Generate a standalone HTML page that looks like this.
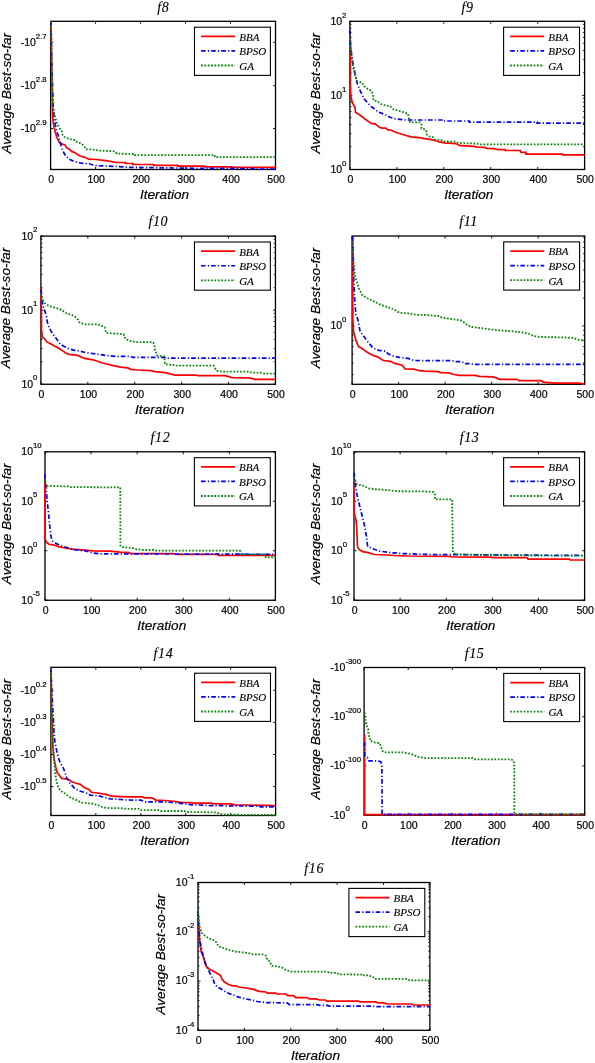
<!DOCTYPE html><html><head><meta charset="utf-8"><style>html,body{margin:0;padding:0;background:#fff;width:595px;height:1063px;overflow:hidden}svg{display:block}.tk{font-family:"Liberation Sans",Arial,sans-serif;font-size:10.5px;fill:#000}.ex{font-size:7.8px}.al{font-family:"Liberation Sans",Arial,sans-serif;font-style:italic;font-size:13.6px;fill:#000}.yl{font-size:13.6px}.xl{font-size:13.6px}.ti{font-family:"Liberation Serif","Times New Roman",serif;font-style:italic;font-size:14px;letter-spacing:0.6px;fill:#000}.lg{font-family:"Liberation Serif","Times New Roman",serif;font-style:italic;font-size:11px;fill:#000}text{stroke:#000;stroke-width:0.2px}.ti,.lg{stroke-width:0.12px}</style></head><body>
<svg width="595" height="1063" viewBox="0 0 595 1063">
<rect width="595" height="1063" fill="#fff"/>
<g>
<rect x="50.6" y="21.3" width="224.9" height="148.2" fill="none" stroke="#000" stroke-width="1.3"/>
<path d="M50.6 169.5v-2.5M50.6 21.3v2.5" stroke="#000" stroke-width="0.9"/>
<text class="tk" x="51.2" y="183" text-anchor="middle">0</text>
<path d="M95.58 169.5v-2.5M95.58 21.3v2.5" stroke="#000" stroke-width="0.9"/>
<text class="tk" x="96.18" y="183" text-anchor="middle">100</text>
<path d="M140.56 169.5v-2.5M140.56 21.3v2.5" stroke="#000" stroke-width="0.9"/>
<text class="tk" x="141.16" y="183" text-anchor="middle">200</text>
<path d="M185.54 169.5v-2.5M185.54 21.3v2.5" stroke="#000" stroke-width="0.9"/>
<text class="tk" x="186.14" y="183" text-anchor="middle">300</text>
<path d="M230.52 169.5v-2.5M230.52 21.3v2.5" stroke="#000" stroke-width="0.9"/>
<text class="tk" x="231.12" y="183" text-anchor="middle">400</text>
<path d="M275.5 169.5v-2.5M275.5 21.3v2.5" stroke="#000" stroke-width="0.9"/>
<text class="tk" x="276.1" y="183" text-anchor="middle">500</text>
<path d="M50.6 42.3h2.5M275.5 42.3h-2.5" stroke="#000" stroke-width="0.9"/>
<text class="tk" x="20.65" y="45.7">-10<tspan class="ex" dy="-7.2">2.7</tspan></text>
<path d="M50.6 85.7h2.5M275.5 85.7h-2.5" stroke="#000" stroke-width="0.9"/>
<text class="tk" x="20.65" y="89.1">-10<tspan class="ex" dy="-7.2">2.8</tspan></text>
<path d="M50.6 128.5h2.5M275.5 128.5h-2.5" stroke="#000" stroke-width="0.9"/>
<text class="tk" x="20.65" y="131.9">-10<tspan class="ex" dy="-7.2">2.9</tspan></text>
<clipPath id="cf8"><rect x="49.6" y="20.3" width="226.9" height="150.2"/></clipPath>
<g clip-path="url(#cf8)">
<polyline points="51,21.6 51.6,60 52.2,95 52.5,109.1 52.9,119.7 53.9,126.7 55.3,132.4 56.8,137.3 58.9,141.6 61.7,143.7 65.2,145.1 66.6,147.9 69.5,149.3 71.6,151.4 73.7,152.1 77.2,154.3 80,156 84.3,157.1 87.8,158.8 89,159.2 95.8,159.5 106,160.7 116,162.5 125.4,162.5 125.4,163.5 132.8,163.5 132.8,164.5 153.6,164.5 153.6,165.4 177.8,165.4 177.8,166.2 204.7,166.2 204.7,166.8 231.6,166.8 231.6,167.4 275.5,167.4" fill="none" stroke="#ff0000" stroke-width="1.7"/>
<polyline points="51,21.6 51.6,60 52.9,95 53.2,109.1 54.3,118.3 55.3,124.6 56.8,131.7 58.9,137.3 60.3,143 62.1,148.6 63.8,152.8 65.9,156.4 69.5,159.2 73.7,161.3 78.6,162.7 82.9,163.4 89,163.8 95.8,165.6 106,166.1 117.6,166.5 128,167.3 160,167.8 200,168.3 255.8,168.6 256,169 275.5,169" fill="none" stroke="#0000ff" stroke-width="1.7" stroke-dasharray="4.6,2.2,1.2,2.1"/>
<polyline points="51,21.6 51.7,60 52.2,95 53.2,105.6 54.3,114 55.7,119 57.5,124.6 59.6,128.2 61.7,131 62.8,135.9 65.9,138 70.2,139.1 75.1,140.1 77.2,142.3 81.5,143.7 84.3,146.5 85.7,149.3 91.5,149.3 98.7,150.6 114.7,151.3 116.8,153.6 134.8,154.1 134.8,155.1 214.8,155.1 214.8,157.1 275.5,157.1" fill="none" stroke="#008a00" stroke-width="1.8" stroke-dasharray="1.7,1.66"/>
</g>
<text class="ti" x="163.25" y="11.5" text-anchor="middle">f8</text>
<text class="al xl" x="164.55" y="198.8" text-anchor="middle">Iteration</text>
<text class="al yl" transform="translate(10.6,93.2) rotate(-90)" text-anchor="middle">Average Best-so-far</text>
<rect x="194.5" y="27.2" width="75.9" height="48.2" fill="#fff" stroke="#000" stroke-width="1.1"/>
<polyline points="201.05,36.4 235.05,36.4" fill="none" stroke="#ff0000" stroke-width="1.7"/>
<text class="lg" x="239.2" y="40.7">BBA</text>
<polyline points="201.05,50.95 235.05,50.95" fill="none" stroke="#0000ff" stroke-width="1.7" stroke-dasharray="4.6,2.2,1.2,2.1"/>
<text class="lg" x="239.2" y="55.25">BPSO</text>
<polyline points="201.05,65.5 235.05,65.5" fill="none" stroke="#008a00" stroke-width="1.8" stroke-dasharray="1.7,1.66"/>
<text class="lg" x="239.2" y="69.8">GA</text>
</g>
<g>
<rect x="349.9" y="21.3" width="234.7" height="148.2" fill="none" stroke="#000" stroke-width="1.3"/>
<path d="M349.9 169.5v-2.5M349.9 21.3v2.5" stroke="#000" stroke-width="0.9"/>
<text class="tk" x="350.5" y="183" text-anchor="middle">0</text>
<path d="M396.84 169.5v-2.5M396.84 21.3v2.5" stroke="#000" stroke-width="0.9"/>
<text class="tk" x="397.44" y="183" text-anchor="middle">100</text>
<path d="M443.78 169.5v-2.5M443.78 21.3v2.5" stroke="#000" stroke-width="0.9"/>
<text class="tk" x="444.38" y="183" text-anchor="middle">200</text>
<path d="M490.72 169.5v-2.5M490.72 21.3v2.5" stroke="#000" stroke-width="0.9"/>
<text class="tk" x="491.32" y="183" text-anchor="middle">300</text>
<path d="M537.66 169.5v-2.5M537.66 21.3v2.5" stroke="#000" stroke-width="0.9"/>
<text class="tk" x="538.26" y="183" text-anchor="middle">400</text>
<path d="M584.6 169.5v-2.5M584.6 21.3v2.5" stroke="#000" stroke-width="0.9"/>
<text class="tk" x="585.2" y="183" text-anchor="middle">500</text>
<path d="M349.9 169.5h2.5M584.6 169.5h-2.5" stroke="#000" stroke-width="0.9"/>
<text class="tk" x="330.4" y="172.9">10<tspan class="ex" dy="-7.2">0</tspan></text>
<path d="M349.9 95.4h2.5M584.6 95.4h-2.5" stroke="#000" stroke-width="0.9"/>
<text class="tk" x="330.4" y="98.8">10<tspan class="ex" dy="-7.2">1</tspan></text>
<path d="M349.9 21.3h2.5M584.6 21.3h-2.5" stroke="#000" stroke-width="0.9"/>
<text class="tk" x="330.4" y="24.7">10<tspan class="ex" dy="-7.2">2</tspan></text>
<path d="M349.9 146.72h1.6M584.6 146.72h-1.8M349.9 133.69h1.6M584.6 133.69h-1.8M349.9 124.45h1.6M584.6 124.45h-1.8M349.9 117.28h1.6M584.6 117.28h-1.8M349.9 111.42h1.6M584.6 111.42h-1.8M349.9 106.46h1.6M584.6 106.46h-1.8M349.9 102.17h1.6M584.6 102.17h-1.8M349.9 98.39h1.6M584.6 98.39h-1.8M349.9 72.72h1.6M584.6 72.72h-1.8M349.9 59.69h1.6M584.6 59.69h-1.8M349.9 50.45h1.6M584.6 50.45h-1.8M349.9 43.28h1.6M584.6 43.28h-1.8M349.9 37.42h1.6M584.6 37.42h-1.8M349.9 32.46h1.6M584.6 32.46h-1.8M349.9 28.17h1.6M584.6 28.17h-1.8M349.9 24.39h1.6M584.6 24.39h-1.8" stroke="#000" stroke-width="0.8"/>
<clipPath id="cf9"><rect x="348.9" y="20.3" width="236.7" height="150.2"/></clipPath>
<g clip-path="url(#cf9)">
<polyline points="350.1,35.3 350.3,62.6 350.4,85.2 350.8,95.6 352.2,102.1 353.6,105 355.1,107.8 355.5,112.5 357.4,113.4 360.2,115.3 362.1,116.7 364.9,119.1 366,119.7 368,121.1 370,122.5 372,123.7 374.9,123.7 377.3,125.7 379.3,127.3 382.1,128.1 385.8,128.1 387.8,129.8 390,129.8 396.3,132.5 403.5,134.7 410.8,136.8 419.5,137.6 424.3,138.6 430,139.3 435.7,140.7 438.6,141.7 444.3,142.9 455.7,143.6 460,145.7 474.3,146.4 477.1,147.1 484.3,147.4 487.1,148.3 494.3,148.6 497.9,149.7 505.3,149.7 505.3,150.5 520.4,150.5 521,152.4 525.7,152.4 526,154.2 562.8,154.2 563,154.9 584.6,154.9" fill="none" stroke="#ff0000" stroke-width="1.7"/>
<polyline points="349.9,30.2 350.4,43.8 351.8,56 353.2,64.5 355.1,73.9 356.9,82.4 359.3,89 362.1,94.6 364.5,99.3 367.8,103.1 371.5,106.8 376.9,110.8 378.1,112 382.1,113.4 385,114.6 387.8,116 390,117.3 394.8,118.7 405,120 443.6,120 443.6,121 469.3,121 469.3,122.1 537.1,122.1 537.1,123.2 584.6,123.2" fill="none" stroke="#0000ff" stroke-width="1.7" stroke-dasharray="4.6,2.2,1.2,2.1"/>
<polyline points="349.7,34.4 350.6,43.8 351.3,53.2 352.2,62.6 353.6,69.2 355.1,74.9 356.9,81.4 358.8,81.9 362.1,82.4 364,86.1 367.8,89 371.5,90.9 372.9,94.1 373.4,100.3 377.2,101.2 380.9,104 386.6,105.9 390.5,106.4 393.4,109.3 403.5,112.2 407.9,113.7 410,122.3 420,122.3 421.4,123.6 421.4,128.6 425,129.3 426.4,131.4 427.1,135 429.3,136.4 432.9,137.1 434.3,139.3 441.4,140 442.9,141.4 455.7,141.7 458.6,143.1 477.1,143.6 478.6,144.4 584.6,144.4" fill="none" stroke="#008a00" stroke-width="1.8" stroke-dasharray="1.7,1.66"/>
</g>
<text class="ti" x="467.45" y="11.5" text-anchor="middle">f9</text>
<text class="al xl" x="468.75" y="198.8" text-anchor="middle">Iteration</text>
<text class="al yl" transform="translate(320,93.2) rotate(-90)" text-anchor="middle">Average Best-so-far</text>
<rect x="503.6" y="27.2" width="75.9" height="48.2" fill="#fff" stroke="#000" stroke-width="1.1"/>
<polyline points="510.15,36.4 544.15,36.4" fill="none" stroke="#ff0000" stroke-width="1.7"/>
<text class="lg" x="548.3" y="40.7">BBA</text>
<polyline points="510.15,50.95 544.15,50.95" fill="none" stroke="#0000ff" stroke-width="1.7" stroke-dasharray="4.6,2.2,1.2,2.1"/>
<text class="lg" x="548.3" y="55.25">BPSO</text>
<polyline points="510.15,65.5 544.15,65.5" fill="none" stroke="#008a00" stroke-width="1.8" stroke-dasharray="1.7,1.66"/>
<text class="lg" x="548.3" y="69.8">GA</text>
</g>
<g>
<rect x="40.9" y="236.1" width="234.55" height="148.15" fill="none" stroke="#000" stroke-width="1.3"/>
<path d="M40.9 384.25v-2.5M40.9 236.1v2.5" stroke="#000" stroke-width="0.9"/>
<text class="tk" x="41.5" y="397.75" text-anchor="middle">0</text>
<path d="M87.81 384.25v-2.5M87.81 236.1v2.5" stroke="#000" stroke-width="0.9"/>
<text class="tk" x="88.41" y="397.75" text-anchor="middle">100</text>
<path d="M134.72 384.25v-2.5M134.72 236.1v2.5" stroke="#000" stroke-width="0.9"/>
<text class="tk" x="135.32" y="397.75" text-anchor="middle">200</text>
<path d="M181.63 384.25v-2.5M181.63 236.1v2.5" stroke="#000" stroke-width="0.9"/>
<text class="tk" x="182.23" y="397.75" text-anchor="middle">300</text>
<path d="M228.54 384.25v-2.5M228.54 236.1v2.5" stroke="#000" stroke-width="0.9"/>
<text class="tk" x="229.14" y="397.75" text-anchor="middle">400</text>
<path d="M275.45 384.25v-2.5M275.45 236.1v2.5" stroke="#000" stroke-width="0.9"/>
<text class="tk" x="276.05" y="397.75" text-anchor="middle">500</text>
<path d="M40.9 384.25h2.5M275.45 384.25h-2.5" stroke="#000" stroke-width="0.9"/>
<text class="tk" x="21.4" y="387.65">10<tspan class="ex" dy="-7.2">0</tspan></text>
<path d="M40.9 310.18h2.5M275.45 310.18h-2.5" stroke="#000" stroke-width="0.9"/>
<text class="tk" x="21.4" y="313.57">10<tspan class="ex" dy="-7.2">1</tspan></text>
<path d="M40.9 236.1h2.5M275.45 236.1h-2.5" stroke="#000" stroke-width="0.9"/>
<text class="tk" x="21.4" y="239.5">10<tspan class="ex" dy="-7.2">2</tspan></text>
<path d="M40.9 361.72h1.6M275.45 361.72h-1.8M40.9 348.69h1.6M275.45 348.69h-1.8M40.9 339.45h1.6M275.45 339.45h-1.8M40.9 332.28h1.6M275.45 332.28h-1.8M40.9 326.42h1.6M275.45 326.42h-1.8M40.9 321.46h1.6M275.45 321.46h-1.8M40.9 317.17h1.6M275.45 317.17h-1.8M40.9 313.39h1.6M275.45 313.39h-1.8M40.9 287.72h1.6M275.45 287.72h-1.8M40.9 274.69h1.6M275.45 274.69h-1.8M40.9 265.45h1.6M275.45 265.45h-1.8M40.9 258.28h1.6M275.45 258.28h-1.8M40.9 252.42h1.6M275.45 252.42h-1.8M40.9 247.46h1.6M275.45 247.46h-1.8M40.9 243.17h1.6M275.45 243.17h-1.8M40.9 239.39h1.6M275.45 239.39h-1.8" stroke="#000" stroke-width="0.8"/>
<clipPath id="cf10"><rect x="39.9" y="235.1" width="236.55" height="150.15"/></clipPath>
<g clip-path="url(#cf10)">
<polyline points="41.3,287.5 41.3,298.8 41.4,328.9 42.4,337.1 44.3,338.6 46.5,341.7 49.5,343.2 52.5,344.7 54.8,346.2 57,347.3 60.1,349.2 63.1,351.1 66.1,353.3 69.1,354.4 72.8,354.8 76.6,355.2 79,355.9 84.4,358.4 93.1,359.8 101.8,362.7 107.6,364.2 113.4,365.6 120.7,367.1 127.9,367.9 130.7,369.3 137.9,370 150.7,370.7 155,371.7 165,372.6 169.3,373.6 175,375.2 196.4,375.2 197.9,375.7 225,375.7 232.1,377.6 249.3,377.9 255,379.3 275.3,379.3" fill="none" stroke="#ff0000" stroke-width="1.7"/>
<polyline points="40.9,289.8 42,298.8 43.1,306.3 45,311.6 46.5,316.1 47.3,322.1 48.8,326.6 51,331.1 54,335.6 57,339.4 60.1,343.9 63.8,346.2 69.1,348.8 74.3,350.3 79,350.9 85.8,352.6 96,354 106.1,355.5 115,356.4 130.7,356.4 132.9,357.4 163.6,357.4 166.4,358.2 275.3,358.2" fill="none" stroke="#0000ff" stroke-width="1.7" stroke-dasharray="4.6,2.2,1.2,2.1"/>
<polyline points="40.9,293.5 42,298 43.5,301.8 46.5,304.8 50.3,306.3 54,307.4 58.5,308.6 61.6,310.1 64.6,312.3 67.6,313.8 71.3,314.6 75.1,316.8 78.1,319.8 79,321.7 80,322.9 85.8,324.3 97.4,324.3 104.7,327.2 106.1,333 118,333.7 123.6,334.3 125.7,339.3 129.3,340.7 136.4,342.1 152.9,342.1 154.3,344.3 155,350 157.1,355.7 164.3,356.4 165,364.3 173.6,365 176.4,365.7 213.6,365.7 216.4,370.7 222.1,371.7 249.3,371.7 251.4,372.6 260.7,372.6 263.6,373.6 275.3,373.6" fill="none" stroke="#008a00" stroke-width="1.8" stroke-dasharray="1.7,1.66"/>
</g>
<text class="ti" x="158.37" y="226.3" text-anchor="middle">f10</text>
<text class="al xl" x="159.67" y="413.55" text-anchor="middle">Iteration</text>
<text class="al yl" transform="translate(10.4,307.98) rotate(-90)" text-anchor="middle">Average Best-so-far</text>
<rect x="194.45" y="242" width="75.9" height="48.2" fill="#fff" stroke="#000" stroke-width="1.1"/>
<polyline points="201,251.2 235,251.2" fill="none" stroke="#ff0000" stroke-width="1.7"/>
<text class="lg" x="239.15" y="255.5">BBA</text>
<polyline points="201,265.75 235,265.75" fill="none" stroke="#0000ff" stroke-width="1.7" stroke-dasharray="4.6,2.2,1.2,2.1"/>
<text class="lg" x="239.15" y="270.05">BPSO</text>
<polyline points="201,280.3 235,280.3" fill="none" stroke="#008a00" stroke-width="1.8" stroke-dasharray="1.7,1.66"/>
<text class="lg" x="239.15" y="284.6">GA</text>
</g>
<g>
<rect x="352.1" y="236" width="232.6" height="148.3" fill="none" stroke="#000" stroke-width="1.3"/>
<path d="M352.1 384.3v-2.5M352.1 236v2.5" stroke="#000" stroke-width="0.9"/>
<text class="tk" x="352.7" y="397.8" text-anchor="middle">0</text>
<path d="M398.62 384.3v-2.5M398.62 236v2.5" stroke="#000" stroke-width="0.9"/>
<text class="tk" x="399.22" y="397.8" text-anchor="middle">100</text>
<path d="M445.14 384.3v-2.5M445.14 236v2.5" stroke="#000" stroke-width="0.9"/>
<text class="tk" x="445.74" y="397.8" text-anchor="middle">200</text>
<path d="M491.66 384.3v-2.5M491.66 236v2.5" stroke="#000" stroke-width="0.9"/>
<text class="tk" x="492.26" y="397.8" text-anchor="middle">300</text>
<path d="M538.18 384.3v-2.5M538.18 236v2.5" stroke="#000" stroke-width="0.9"/>
<text class="tk" x="538.78" y="397.8" text-anchor="middle">400</text>
<path d="M584.7 384.3v-2.5M584.7 236v2.5" stroke="#000" stroke-width="0.9"/>
<text class="tk" x="585.3" y="397.8" text-anchor="middle">500</text>
<path d="M352.1 326h2.5M584.7 326h-2.5" stroke="#000" stroke-width="0.9"/>
<text class="tk" x="330.4" y="329.4">10<tspan class="ex" dy="-7.2">0</tspan></text>
<path d="M352.1 374.63h1.6M584.7 374.63h-1.8M352.1 363.01h1.6M584.7 363.01h-1.8M352.1 354h1.6M584.7 354h-1.8M352.1 346.63h1.6M584.7 346.63h-1.8M352.1 340.41h1.6M584.7 340.41h-1.8M352.1 335.01h1.6M584.7 335.01h-1.8M352.1 330.26h1.6M584.7 330.26h-1.8M352.1 298h1.6M584.7 298h-1.8M352.1 281.63h1.6M584.7 281.63h-1.8M352.1 270.01h1.6M584.7 270.01h-1.8M352.1 261h1.6M584.7 261h-1.8M352.1 253.63h1.6M584.7 253.63h-1.8M352.1 247.41h1.6M584.7 247.41h-1.8M352.1 242.01h1.6M584.7 242.01h-1.8M352.1 237.26h1.6M584.7 237.26h-1.8" stroke="#000" stroke-width="0.8"/>
<clipPath id="cf11"><rect x="351.1" y="235" width="234.6" height="150.3"/></clipPath>
<g clip-path="url(#cf11)">
<polyline points="352.5,236.6 352.7,280 352.9,320 353.6,331.6 355.8,340.2 358.7,346.8 361.6,348.2 364.5,350.4 368.8,353.3 373.2,355.5 377.5,356.9 383.3,360.5 390.6,361.3 394.9,363.4 402.2,365.2 405.1,369 413.8,369.2 419.6,370.7 425,371.1 437.9,371.7 440.7,372.6 449.3,372.9 452.9,374.3 459.3,375.4 475,375.4 479.3,376.4 492.1,376.9 496.4,377.9 499.3,379.3 516.4,379.3 519.3,380.7 540.7,380.7 543.6,382.1 555,383.1 579.3,383.1 584.3,384.2" fill="none" stroke="#ff0000" stroke-width="1.7"/>
<polyline points="352.5,236.6 353.6,276.5 354.3,293.9 355.8,314.2 358,320 360.1,331.6 364.5,337.3 368.8,343.1 373.2,348.2 379,350.4 385.5,351.1 388.4,354 393.5,356.2 400.7,357.6 408,358.4 413.8,360.5 452.1,360.7 455.7,361.7 462.1,361.7 464.3,363.6 470.7,363.6 472.9,364.3 584.6,364.3" fill="none" stroke="#0000ff" stroke-width="1.7" stroke-dasharray="4.6,2.2,1.2,2.1"/>
<polyline points="352.5,241.7 353.6,262 355.1,276.5 358.7,288.1 362.3,295.3 367.4,298.2 373.2,301.1 379,304 384.8,306.2 393.5,309.1 399.3,312.7 408,313.4 416.7,314.9 425,315 439.3,316 441.4,317.4 453.6,319.3 462.1,320.7 466.4,324.3 470.7,326.9 479.3,327.9 489.3,329.3 499.3,330.3 513.6,331.4 523.6,332.6 529.3,334 533.6,336 539.3,336.9 562.1,337.4 573.6,337.9 576.4,339.3 584.6,340.7" fill="none" stroke="#008a00" stroke-width="1.8" stroke-dasharray="1.7,1.66"/>
</g>
<text class="ti" x="468.6" y="226.2" text-anchor="middle">f11</text>
<text class="al xl" x="469.9" y="413.6" text-anchor="middle">Iteration</text>
<text class="al yl" transform="translate(320.4,307.95) rotate(-90)" text-anchor="middle">Average Best-so-far</text>
<rect x="503.7" y="241.9" width="75.9" height="48.2" fill="#fff" stroke="#000" stroke-width="1.1"/>
<polyline points="510.25,251.1 544.25,251.1" fill="none" stroke="#ff0000" stroke-width="1.7"/>
<text class="lg" x="548.4" y="255.4">BBA</text>
<polyline points="510.25,265.65 544.25,265.65" fill="none" stroke="#0000ff" stroke-width="1.7" stroke-dasharray="4.6,2.2,1.2,2.1"/>
<text class="lg" x="548.4" y="269.95">BPSO</text>
<polyline points="510.25,280.2 544.25,280.2" fill="none" stroke="#008a00" stroke-width="1.8" stroke-dasharray="1.7,1.66"/>
<text class="lg" x="548.4" y="284.5">GA</text>
</g>
<g>
<rect x="45" y="451.8" width="230.4" height="148.45" fill="none" stroke="#000" stroke-width="1.3"/>
<path d="M45 600.25v-2.5M45 451.8v2.5" stroke="#000" stroke-width="0.9"/>
<text class="tk" x="45.6" y="613.75" text-anchor="middle">0</text>
<path d="M91.08 600.25v-2.5M91.08 451.8v2.5" stroke="#000" stroke-width="0.9"/>
<text class="tk" x="91.68" y="613.75" text-anchor="middle">100</text>
<path d="M137.16 600.25v-2.5M137.16 451.8v2.5" stroke="#000" stroke-width="0.9"/>
<text class="tk" x="137.76" y="613.75" text-anchor="middle">200</text>
<path d="M183.24 600.25v-2.5M183.24 451.8v2.5" stroke="#000" stroke-width="0.9"/>
<text class="tk" x="183.84" y="613.75" text-anchor="middle">300</text>
<path d="M229.32 600.25v-2.5M229.32 451.8v2.5" stroke="#000" stroke-width="0.9"/>
<text class="tk" x="229.92" y="613.75" text-anchor="middle">400</text>
<path d="M275.4 600.25v-2.5M275.4 451.8v2.5" stroke="#000" stroke-width="0.9"/>
<text class="tk" x="276" y="613.75" text-anchor="middle">500</text>
<path d="M45 600.25h2.5M275.4 600.25h-2.5" stroke="#000" stroke-width="0.9"/>
<text class="tk" x="21.3" y="603.65">10<tspan class="ex" dy="-7.2">-5</tspan></text>
<path d="M45 550.77h2.5M275.4 550.77h-2.5" stroke="#000" stroke-width="0.9"/>
<text class="tk" x="21.3" y="554.17">10<tspan class="ex" dy="-7.2">0</tspan></text>
<path d="M45 501.28h2.5M275.4 501.28h-2.5" stroke="#000" stroke-width="0.9"/>
<text class="tk" x="21.3" y="504.68">10<tspan class="ex" dy="-7.2">5</tspan></text>
<path d="M45 451.8h2.5M275.4 451.8h-2.5" stroke="#000" stroke-width="0.9"/>
<text class="tk" x="21.3" y="455.2">10<tspan class="ex" dy="-7.2">10</tspan></text>
<clipPath id="cf12"><rect x="44" y="450.8" width="232.4" height="150.45"/></clipPath>
<g clip-path="url(#cf12)">
<polyline points="44.6,481.3 44.9,537.9 46.3,542.2 49.2,544.4 53.6,544.8 57.9,546.6 65.2,548 73.9,549.4 85.5,550.2 92.7,550.9 110.1,551.2 120,552.1 129.3,552.6 130.7,553.6 173.6,553.6 176.4,554.3 217.9,554.3 218.5,555.4 275.6,555.4" fill="none" stroke="#ff0000" stroke-width="1.7"/>
<polyline points="44.6,474.1 46.3,491.5 48.5,513.2 50.7,535 52.1,540.8 56.5,543.7 63.7,546.6 71,548.7 78.2,550.2 85.5,550.9 92.7,553.1 100,553.8 275.6,554.3" fill="none" stroke="#0000ff" stroke-width="1.7" stroke-dasharray="4.6,2.2,1.2,2.1"/>
<polyline points="44.6,479.9 46.3,486 68.1,486.4 71,487.1 120.3,487.4 120.4,545.7 121.4,547.1 132.1,547.9 136.4,549.3 143.6,550 153.6,550 155.7,550.7 240,550.7 241,554.3 265,554.3 266,557.4 275.6,557.4" fill="none" stroke="#008a00" stroke-width="1.8" stroke-dasharray="1.7,1.66"/>
</g>
<text class="ti" x="160.4" y="442" text-anchor="middle">f12</text>
<text class="al xl" x="161.7" y="629.55" text-anchor="middle">Iteration</text>
<text class="al yl" transform="translate(10.7,523.82) rotate(-90)" text-anchor="middle">Average Best-so-far</text>
<rect x="194.4" y="457.7" width="75.9" height="48.2" fill="#fff" stroke="#000" stroke-width="1.1"/>
<polyline points="200.95,466.9 234.95,466.9" fill="none" stroke="#ff0000" stroke-width="1.7"/>
<text class="lg" x="239.1" y="471.2">BBA</text>
<polyline points="200.95,481.45 234.95,481.45" fill="none" stroke="#0000ff" stroke-width="1.7" stroke-dasharray="4.6,2.2,1.2,2.1"/>
<text class="lg" x="239.1" y="485.75">BPSO</text>
<polyline points="200.95,496 234.95,496" fill="none" stroke="#008a00" stroke-width="1.8" stroke-dasharray="1.7,1.66"/>
<text class="lg" x="239.1" y="500.3">GA</text>
</g>
<g>
<rect x="354" y="451.8" width="230.6" height="148.45" fill="none" stroke="#000" stroke-width="1.3"/>
<path d="M354 600.25v-2.5M354 451.8v2.5" stroke="#000" stroke-width="0.9"/>
<text class="tk" x="354.6" y="613.75" text-anchor="middle">0</text>
<path d="M400.12 600.25v-2.5M400.12 451.8v2.5" stroke="#000" stroke-width="0.9"/>
<text class="tk" x="400.72" y="613.75" text-anchor="middle">100</text>
<path d="M446.24 600.25v-2.5M446.24 451.8v2.5" stroke="#000" stroke-width="0.9"/>
<text class="tk" x="446.84" y="613.75" text-anchor="middle">200</text>
<path d="M492.36 600.25v-2.5M492.36 451.8v2.5" stroke="#000" stroke-width="0.9"/>
<text class="tk" x="492.96" y="613.75" text-anchor="middle">300</text>
<path d="M538.48 600.25v-2.5M538.48 451.8v2.5" stroke="#000" stroke-width="0.9"/>
<text class="tk" x="539.08" y="613.75" text-anchor="middle">400</text>
<path d="M584.6 600.25v-2.5M584.6 451.8v2.5" stroke="#000" stroke-width="0.9"/>
<text class="tk" x="585.2" y="613.75" text-anchor="middle">500</text>
<path d="M354 600.25h2.5M584.6 600.25h-2.5" stroke="#000" stroke-width="0.9"/>
<text class="tk" x="331" y="603.65">10<tspan class="ex" dy="-7.2">-5</tspan></text>
<path d="M354 550.77h2.5M584.6 550.77h-2.5" stroke="#000" stroke-width="0.9"/>
<text class="tk" x="331" y="554.17">10<tspan class="ex" dy="-7.2">0</tspan></text>
<path d="M354 501.28h2.5M584.6 501.28h-2.5" stroke="#000" stroke-width="0.9"/>
<text class="tk" x="331" y="504.68">10<tspan class="ex" dy="-7.2">5</tspan></text>
<path d="M354 451.8h2.5M584.6 451.8h-2.5" stroke="#000" stroke-width="0.9"/>
<text class="tk" x="331" y="455.2">10<tspan class="ex" dy="-7.2">10</tspan></text>
<clipPath id="cf13"><rect x="353" y="450.8" width="232.6" height="150.45"/></clipPath>
<g clip-path="url(#cf13)">
<polyline points="353.9,481.3 354.2,513.2 356.1,520.5 356.8,529.2 357.5,546.6 359,549.4 362.6,551.6 368.4,552.6 374.2,554.5 387.2,555 394.5,555.5 409,556 450.7,556.4 452.1,556.9 490.7,557.1 492.1,557.7 527.1,557.7 528,559.2 569.3,559.2 570,560 584.6,560" fill="none" stroke="#ff0000" stroke-width="1.7"/>
<polyline points="353.9,472.6 355.3,484.2 357.5,497.3 360.4,508.9 364,523.4 366.2,535 367.7,546.6 372.7,548.7 380,551.2 390.1,552.6 401.7,553.5 416.2,554.1 431,554.5 510,555 584.6,555.5" fill="none" stroke="#0000ff" stroke-width="1.7" stroke-dasharray="4.6,2.2,1.2,2.1"/>
<polyline points="353.9,477 356.8,484.2 364,486 368.4,488.3 375.6,489.3 390.1,490.3 394.5,491.2 425,491.4 433.6,492.1 435,495 435,499.3 452.1,499.3 452.9,552.9 456.4,554.3 510,555.4 584.6,555.7" fill="none" stroke="#008a00" stroke-width="1.8" stroke-dasharray="1.7,1.66"/>
</g>
<text class="ti" x="469.5" y="442" text-anchor="middle">f13</text>
<text class="al xl" x="470.8" y="629.55" text-anchor="middle">Iteration</text>
<text class="al yl" transform="translate(320,523.82) rotate(-90)" text-anchor="middle">Average Best-so-far</text>
<rect x="503.6" y="457.7" width="75.9" height="48.2" fill="#fff" stroke="#000" stroke-width="1.1"/>
<polyline points="510.15,466.9 544.15,466.9" fill="none" stroke="#ff0000" stroke-width="1.7"/>
<text class="lg" x="548.3" y="471.2">BBA</text>
<polyline points="510.15,481.45 544.15,481.45" fill="none" stroke="#0000ff" stroke-width="1.7" stroke-dasharray="4.6,2.2,1.2,2.1"/>
<text class="lg" x="548.3" y="485.75">BPSO</text>
<polyline points="510.15,496 544.15,496" fill="none" stroke="#008a00" stroke-width="1.8" stroke-dasharray="1.7,1.66"/>
<text class="lg" x="548.3" y="500.3">GA</text>
</g>
<g>
<rect x="50.9" y="667.3" width="224.7" height="148.2" fill="none" stroke="#000" stroke-width="1.3"/>
<path d="M50.9 815.5v-2.5M50.9 667.3v2.5" stroke="#000" stroke-width="0.9"/>
<text class="tk" x="51.5" y="829" text-anchor="middle">0</text>
<path d="M95.84 815.5v-2.5M95.84 667.3v2.5" stroke="#000" stroke-width="0.9"/>
<text class="tk" x="96.44" y="829" text-anchor="middle">100</text>
<path d="M140.78 815.5v-2.5M140.78 667.3v2.5" stroke="#000" stroke-width="0.9"/>
<text class="tk" x="141.38" y="829" text-anchor="middle">200</text>
<path d="M185.72 815.5v-2.5M185.72 667.3v2.5" stroke="#000" stroke-width="0.9"/>
<text class="tk" x="186.32" y="829" text-anchor="middle">300</text>
<path d="M230.66 815.5v-2.5M230.66 667.3v2.5" stroke="#000" stroke-width="0.9"/>
<text class="tk" x="231.26" y="829" text-anchor="middle">400</text>
<path d="M275.6 815.5v-2.5M275.6 667.3v2.5" stroke="#000" stroke-width="0.9"/>
<text class="tk" x="276.2" y="829" text-anchor="middle">500</text>
<path d="M50.9 690.3h2.5M275.6 690.3h-2.5" stroke="#000" stroke-width="0.9"/>
<text class="tk" x="20.6" y="693.7">-10<tspan class="ex" dy="-7.2">0.2</tspan></text>
<path d="M50.9 722.4h2.5M275.6 722.4h-2.5" stroke="#000" stroke-width="0.9"/>
<text class="tk" x="20.6" y="725.8">-10<tspan class="ex" dy="-7.2">0.3</tspan></text>
<path d="M50.9 754.5h2.5M275.6 754.5h-2.5" stroke="#000" stroke-width="0.9"/>
<text class="tk" x="20.6" y="757.9">-10<tspan class="ex" dy="-7.2">0.4</tspan></text>
<path d="M50.9 786.6h2.5M275.6 786.6h-2.5" stroke="#000" stroke-width="0.9"/>
<text class="tk" x="20.6" y="790">-10<tspan class="ex" dy="-7.2">0.5</tspan></text>
<clipPath id="cf14"><rect x="49.9" y="666.3" width="226.7" height="150.2"/></clipPath>
<g clip-path="url(#cf14)">
<polyline points="50.9,667.6 51.6,707.5 52.4,725 52.8,746.2 54.1,758.9 55.8,767.4 57.1,772.5 59.2,775 61.7,778.4 65.1,778.8 68.5,779.2 71.9,781.8 77,783.5 80.4,784.3 83.7,787.3 89,789.4 91.5,792.3 97.3,793 106,794.4 111.8,796.2 120.5,796.6 128,796.8 142.5,796.8 144.5,797.8 151.9,797.8 155.9,800.1 165.3,800.5 176.1,801.5 180.1,802.3 190.9,802.6 193.5,803.1 211.4,803.1 213.4,803.9 230.9,803.9 234.9,804.8 273.3,805.6 275.5,805.9" fill="none" stroke="#ff0000" stroke-width="1.7"/>
<polyline points="50.9,667.6 52.3,700.2 53.7,725 54.1,733.5 54.9,741.9 56.6,750.4 58.3,757.2 60,762.3 63,767.4 65.1,772.5 66.8,778.4 70.2,783.5 74.4,788.1 78.7,790.7 84.6,792.4 89,794.1 90,795.2 98.7,795.9 110.3,798.8 120.5,799.5 128,800 141.1,800.1 143.8,801.9 162.6,801.9 174.7,802.6 184.1,803.9 192.2,804.8 205,805.2 210.8,805.6 259.1,806.2 260.5,806.9 275.5,806.9" fill="none" stroke="#0000ff" stroke-width="1.7" stroke-dasharray="4.6,2.2,1.2,2.1"/>
<polyline points="50.9,668.3 51.6,707.5 52,725 52.8,741.9 53.7,757.2 54.5,765.7 55.4,775 56.6,781.8 58.3,787.7 60.9,791.1 65.1,793.6 69.3,797 74.4,799.2 77.8,800.8 81.2,802.5 89,803.4 91.5,803.4 98.7,805.3 103.1,807.5 110.3,808.2 120.5,808.2 128,808.9 139.8,808.9 141.1,810.2 158.6,810.2 160.6,811 184.1,811 186.2,812 216.1,812.4 220.2,814 226.9,814.7 275.5,815" fill="none" stroke="#008a00" stroke-width="1.8" stroke-dasharray="1.7,1.66"/>
</g>
<text class="ti" x="163.45" y="657.5" text-anchor="middle">f14</text>
<text class="al xl" x="164.75" y="844.8" text-anchor="middle">Iteration</text>
<text class="al yl" transform="translate(10.7,739.2) rotate(-90)" text-anchor="middle">Average Best-so-far</text>
<rect x="194.6" y="673.2" width="75.9" height="48.2" fill="#fff" stroke="#000" stroke-width="1.1"/>
<polyline points="201.15,682.4 235.15,682.4" fill="none" stroke="#ff0000" stroke-width="1.7"/>
<text class="lg" x="239.3" y="686.7">BBA</text>
<polyline points="201.15,696.95 235.15,696.95" fill="none" stroke="#0000ff" stroke-width="1.7" stroke-dasharray="4.6,2.2,1.2,2.1"/>
<text class="lg" x="239.3" y="701.25">BPSO</text>
<polyline points="201.15,711.5 235.15,711.5" fill="none" stroke="#008a00" stroke-width="1.8" stroke-dasharray="1.7,1.66"/>
<text class="lg" x="239.3" y="715.8">GA</text>
</g>
<g>
<rect x="364.1" y="667.5" width="220.6" height="147.7" fill="none" stroke="#000" stroke-width="1.3"/>
<path d="M364.1 815.2v-2.5M364.1 667.5v2.5" stroke="#000" stroke-width="0.9"/>
<text class="tk" x="364.7" y="828.7" text-anchor="middle">0</text>
<path d="M408.22 815.2v-2.5M408.22 667.5v2.5" stroke="#000" stroke-width="0.9"/>
<text class="tk" x="408.82" y="828.7" text-anchor="middle">100</text>
<path d="M452.34 815.2v-2.5M452.34 667.5v2.5" stroke="#000" stroke-width="0.9"/>
<text class="tk" x="452.94" y="828.7" text-anchor="middle">200</text>
<path d="M496.46 815.2v-2.5M496.46 667.5v2.5" stroke="#000" stroke-width="0.9"/>
<text class="tk" x="497.06" y="828.7" text-anchor="middle">300</text>
<path d="M540.58 815.2v-2.5M540.58 667.5v2.5" stroke="#000" stroke-width="0.9"/>
<text class="tk" x="541.18" y="828.7" text-anchor="middle">400</text>
<path d="M584.7 815.2v-2.5M584.7 667.5v2.5" stroke="#000" stroke-width="0.9"/>
<text class="tk" x="585.3" y="828.7" text-anchor="middle">500</text>
<path d="M364.1 815.2h2.5M584.7 815.2h-2.5" stroke="#000" stroke-width="0.9"/>
<text class="tk" x="330.2" y="818.6">-10<tspan class="ex" dy="-7.2">0</tspan></text>
<path d="M364.1 765.97h2.5M584.7 765.97h-2.5" stroke="#000" stroke-width="0.9"/>
<text class="tk" x="330.2" y="769.37">-10<tspan class="ex" dy="-7.2">-100</tspan></text>
<path d="M364.1 716.73h2.5M584.7 716.73h-2.5" stroke="#000" stroke-width="0.9"/>
<text class="tk" x="330.2" y="720.13">-10<tspan class="ex" dy="-7.2">-200</tspan></text>
<path d="M364.1 667.5h2.5M584.7 667.5h-2.5" stroke="#000" stroke-width="0.9"/>
<text class="tk" x="330.2" y="670.9">-10<tspan class="ex" dy="-7.2">-300</tspan></text>
<clipPath id="cf15"><rect x="363.1" y="666.5" width="222.6" height="149.7"/></clipPath>
<g clip-path="url(#cf15)">
<polyline points="364.6,734.6 364.6,814.7 584.6,814.7" fill="none" stroke="#ff0000" stroke-width="1.7"/>
<polyline points="364.6,742 364.7,756.1 367.4,757.4 368.7,760.8 377.5,760.8 380.8,761.8 381.8,764.2 382,775 382.1,814.4 584.6,814.4" fill="none" stroke="#0000ff" stroke-width="1.7" stroke-dasharray="4.6,2.2,1.2,2.1"/>
<polyline points="364.6,712.4 365.4,719.8 366.4,725.2 368.1,728.5 368.4,734.6 370.1,737.9 370.1,741 375.4,742.6 379.1,743 380.8,746 382.2,750.7 384.2,752.4 403.5,752.4 410.7,753.9 418,756.8 425.2,758.1 472.9,758.1 474.3,759.3 510.7,759.3 513.6,760.7 514.3,764.3 514.3,814.4 584.6,814.4" fill="none" stroke="#008a00" stroke-width="1.8" stroke-dasharray="1.7,1.66"/>
</g>
<text class="ti" x="474.6" y="657.7" text-anchor="middle">f15</text>
<text class="al xl" x="475.9" y="844.5" text-anchor="middle">Iteration</text>
<text class="al yl" transform="translate(319.7,739.15) rotate(-90)" text-anchor="middle">Average Best-so-far</text>
<rect x="503.7" y="673.4" width="75.9" height="48.2" fill="#fff" stroke="#000" stroke-width="1.1"/>
<polyline points="510.25,682.6 544.25,682.6" fill="none" stroke="#ff0000" stroke-width="1.7"/>
<text class="lg" x="548.4" y="686.9">BBA</text>
<polyline points="510.25,697.15 544.25,697.15" fill="none" stroke="#0000ff" stroke-width="1.7" stroke-dasharray="4.6,2.2,1.2,2.1"/>
<text class="lg" x="548.4" y="701.45">BPSO</text>
<polyline points="510.25,711.7 544.25,711.7" fill="none" stroke="#008a00" stroke-width="1.8" stroke-dasharray="1.7,1.66"/>
<text class="lg" x="548.4" y="716">GA</text>
</g>
<g>
<rect x="198" y="882.5" width="231.9" height="147.8" fill="none" stroke="#000" stroke-width="1.3"/>
<path d="M198 1030.3v-2.5M198 882.5v2.5" stroke="#000" stroke-width="0.9"/>
<text class="tk" x="198.6" y="1043.8" text-anchor="middle">0</text>
<path d="M244.38 1030.3v-2.5M244.38 882.5v2.5" stroke="#000" stroke-width="0.9"/>
<text class="tk" x="244.98" y="1043.8" text-anchor="middle">100</text>
<path d="M290.76 1030.3v-2.5M290.76 882.5v2.5" stroke="#000" stroke-width="0.9"/>
<text class="tk" x="291.36" y="1043.8" text-anchor="middle">200</text>
<path d="M337.14 1030.3v-2.5M337.14 882.5v2.5" stroke="#000" stroke-width="0.9"/>
<text class="tk" x="337.74" y="1043.8" text-anchor="middle">300</text>
<path d="M383.52 1030.3v-2.5M383.52 882.5v2.5" stroke="#000" stroke-width="0.9"/>
<text class="tk" x="384.12" y="1043.8" text-anchor="middle">400</text>
<path d="M429.9 1030.3v-2.5M429.9 882.5v2.5" stroke="#000" stroke-width="0.9"/>
<text class="tk" x="430.5" y="1043.8" text-anchor="middle">500</text>
<path d="M198 1030.3h2.5M429.9 1030.3h-2.5" stroke="#000" stroke-width="0.9"/>
<text class="tk" x="175.8" y="1033.7">10<tspan class="ex" dy="-7.2">-4</tspan></text>
<path d="M198 981.03h2.5M429.9 981.03h-2.5" stroke="#000" stroke-width="0.9"/>
<text class="tk" x="175.8" y="984.43">10<tspan class="ex" dy="-7.2">-3</tspan></text>
<path d="M198 931.77h2.5M429.9 931.77h-2.5" stroke="#000" stroke-width="0.9"/>
<text class="tk" x="175.8" y="935.17">10<tspan class="ex" dy="-7.2">-2</tspan></text>
<path d="M198 882.5h2.5M429.9 882.5h-2.5" stroke="#000" stroke-width="0.9"/>
<text class="tk" x="175.8" y="885.9">10<tspan class="ex" dy="-7.2">-1</tspan></text>
<path d="M198 1015.42h1.6M429.9 1015.42h-1.8M198 1006.72h1.6M429.9 1006.72h-1.8M198 1000.54h1.6M429.9 1000.54h-1.8M198 995.75h1.6M429.9 995.75h-1.8M198 991.84h1.6M429.9 991.84h-1.8M198 988.53h1.6M429.9 988.53h-1.8M198 985.66h1.6M429.9 985.66h-1.8M198 983.13h1.6M429.9 983.13h-1.8M198 965.99h1.6M429.9 965.99h-1.8M198 957.29h1.6M429.9 957.29h-1.8M198 951.11h1.6M429.9 951.11h-1.8M198 946.32h1.6M429.9 946.32h-1.8M198 942.41h1.6M429.9 942.41h-1.8M198 939.1h1.6M429.9 939.1h-1.8M198 936.23h1.6M429.9 936.23h-1.8M198 933.7h1.6M429.9 933.7h-1.8M198 916.56h1.6M429.9 916.56h-1.8M198 907.86h1.6M429.9 907.86h-1.8M198 901.68h1.6M429.9 901.68h-1.8M198 896.89h1.6M429.9 896.89h-1.8M198 892.98h1.6M429.9 892.98h-1.8M198 889.67h1.6M429.9 889.67h-1.8M198 886.8h1.6M429.9 886.8h-1.8M198 884.27h1.6M429.9 884.27h-1.8" stroke="#000" stroke-width="0.8"/>
<clipPath id="cf16"><rect x="197" y="881.5" width="233.9" height="149.8"/></clipPath>
<g clip-path="url(#cf16)">
<polyline points="198.1,918.8 198.8,928.2 199.8,942.3 201.2,951.7 203.5,957.4 205.9,965.9 209.2,969.1 213.9,971.5 218.6,974.3 220.5,975.3 221.9,979 224.2,981.8 228,984.2 231.7,985.6 236,985.8 238.5,987 245.7,988 253,989.1 258.8,991.3 266,992 267.5,993.1 275.7,993.1 277.1,994 285.7,994 287.9,995.7 293.6,995.7 295.7,997.6 307.1,997.6 309.3,998.9 316.4,998.9 319.3,1000 325,1000 327.1,1001.1 358.6,1001.1 360,1001.9 375.7,1001.9 377.1,1002.6 382.9,1002.9 387.9,1004 411.4,1004 412.9,1005 430.3,1005" fill="none" stroke="#ff0000" stroke-width="1.7"/>
<polyline points="197.9,911.3 198.8,928.2 200.2,942.3 202.1,951.7 204.5,960.2 206.3,965.9 208.7,970.6 211.1,975.3 213.4,980 214.8,984.7 218.6,987.5 223.3,990.3 228,993.1 236,996 238.5,997.1 244.3,998.6 251.5,1000 257.3,1001.5 266,1002.6 287.1,1002.9 289.3,1004.6 317.1,1004.6 320,1005.4 327.1,1005.4 329.3,1006.1 372.9,1006.1 375,1006.7 430.3,1006.7" fill="none" stroke="#0000ff" stroke-width="1.7" stroke-dasharray="4.6,2.2,1.2,2.1"/>
<polyline points="197.9,909.4 198.8,918.8 199.8,927.3 201.6,932.9 205.4,936.2 209.2,938.6 214.8,940.5 217.2,943.3 218.1,946.1 223.3,948 228.9,949.9 236,951.7 247.2,952.9 253,954.4 263.1,954.4 266,955.8 267.5,960.2 270,961.4 271.4,965.7 281.4,967.1 285.7,970 291.4,971.7 327.1,971.7 330,972.9 337.1,972.9 338.6,974.3 361.4,974.6 361.4,975.4 369.3,975.4 371.4,976.9 375,977.4 375.7,978.9 407.9,978.9 409.3,980.3 430.3,980.3" fill="none" stroke="#008a00" stroke-width="1.8" stroke-dasharray="1.7,1.66"/>
</g>
<text class="ti" x="314.15" y="872.7" text-anchor="middle">f16</text>
<text class="al xl" x="315.45" y="1059.6" text-anchor="middle">Iteration</text>
<text class="al yl" transform="translate(164.8,954.2) rotate(-90)" text-anchor="middle">Average Best-so-far</text>
<rect x="348.9" y="888.4" width="75.9" height="48.2" fill="#fff" stroke="#000" stroke-width="1.1"/>
<polyline points="355.45,897.6 389.45,897.6" fill="none" stroke="#ff0000" stroke-width="1.7"/>
<text class="lg" x="393.6" y="901.9">BBA</text>
<polyline points="355.45,912.15 389.45,912.15" fill="none" stroke="#0000ff" stroke-width="1.7" stroke-dasharray="4.6,2.2,1.2,2.1"/>
<text class="lg" x="393.6" y="916.45">BPSO</text>
<polyline points="355.45,926.7 389.45,926.7" fill="none" stroke="#008a00" stroke-width="1.8" stroke-dasharray="1.7,1.66"/>
<text class="lg" x="393.6" y="931">GA</text>
</g>
</svg></body></html>
